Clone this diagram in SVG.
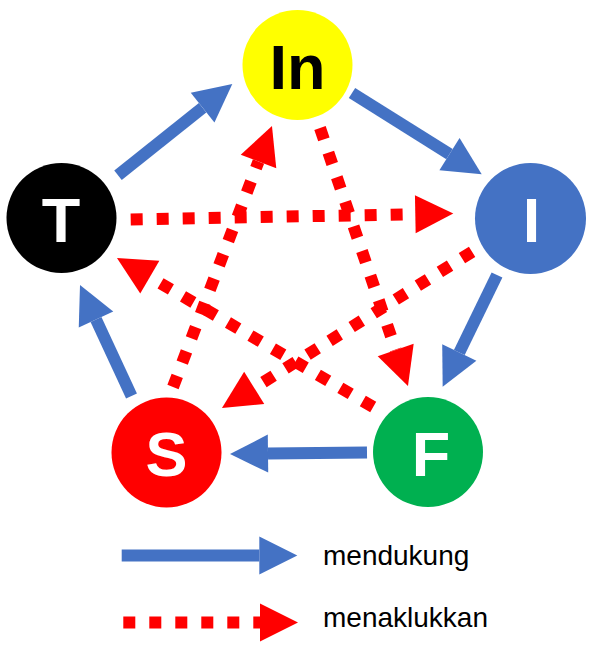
<svg xmlns="http://www.w3.org/2000/svg" width="591" height="662" viewBox="0 0 591 662">
<style>
.node-label{font-family:"Liberation Sans",Arial,sans-serif;font-weight:bold;font-size:63px;text-anchor:middle}
.legend-text{font-family:"Liberation Sans",Arial,sans-serif;font-size:28px;fill:#000}
.sup{stroke:#4472C4;stroke-width:12;fill:none;marker-end:url(#hb)}
.con{stroke:#FF0000;stroke-width:12;fill:none;stroke-dasharray:12 14;marker-end:url(#hr)}
</style>
<defs>
<marker id="hb" markerUnits="userSpaceOnUse" markerWidth="40" markerHeight="40" refX="0" refY="19" orient="auto" overflow="visible">
<path d="M0,0 L38,19 L0,38 Z" fill="#4472C4"/>
</marker>
<marker id="hr" markerUnits="userSpaceOnUse" markerWidth="40" markerHeight="40" refX="0" refY="19" orient="auto" overflow="visible">
<path d="M0,0 L38,19 L0,38 Z" fill="#FF0000"/>
</marker>
</defs>
<rect width="591" height="662" fill="#FFFFFF"/>
<g id="connectors">
<line class="sup" x1="118" y1="175.2" x2="202.6" y2="107.7"/>
<line class="sup" x1="352" y1="93" x2="449.5" y2="154.1"/>
<line class="sup" x1="497" y1="275" x2="459.3" y2="352.5"/>
<line class="sup" x1="367" y1="452.5" x2="268" y2="453.6"/>
<line class="sup" x1="131.5" y1="396" x2="96" y2="319.5"/>
<line class="con" x1="130.7" y1="219.5" x2="415.3" y2="214.2"/>
<line class="con" x1="320" y1="128" x2="395.7" y2="350"/>
<line class="con" x1="373.2" y1="407" x2="149.8" y2="277.1"/>
<line class="con" x1="472.1" y1="251.8" x2="254.2" y2="387.9"/>
<line class="con" x1="173" y1="387" x2="258.5" y2="161.5"/>
</g>
<g id="node-In">
<circle cx="297.5" cy="65" r="55" fill="#FFFF00"/>
<text class="node-label" x="297.5" y="89" fill="#000000">In</text>
</g>
<g id="node-T">
<circle cx="61.5" cy="218" r="55" fill="#000000"/>
<text class="node-label" x="61" y="242" fill="#FFFFFF">T</text>
</g>
<g id="node-I">
<circle cx="530.5" cy="218.5" r="55.5" fill="#4472C4"/>
<text class="node-label" x="531.5" y="242" fill="#FFFFFF">I</text>
</g>
<g id="node-S">
<circle cx="166.5" cy="452.5" r="55" fill="#FF0000"/>
<text class="node-label" x="166.5" y="476" fill="#FFFFFF">S</text>
</g>
<g id="node-F">
<circle cx="428" cy="452" r="55" fill="#00B050"/>
<text class="node-label" x="431" y="476" fill="#FFFFFF">F</text>
</g>
<g id="legend">
<line class="sup" x1="121.7" y1="555.5" x2="259.3" y2="555.5"/>
<text class="legend-text" x="323" y="565">mendukung</text>
<line class="con" x1="123.3" y1="622.5" x2="260" y2="622.5"/>
<text class="legend-text" x="323" y="627">menaklukkan</text>
</g>
</svg>
